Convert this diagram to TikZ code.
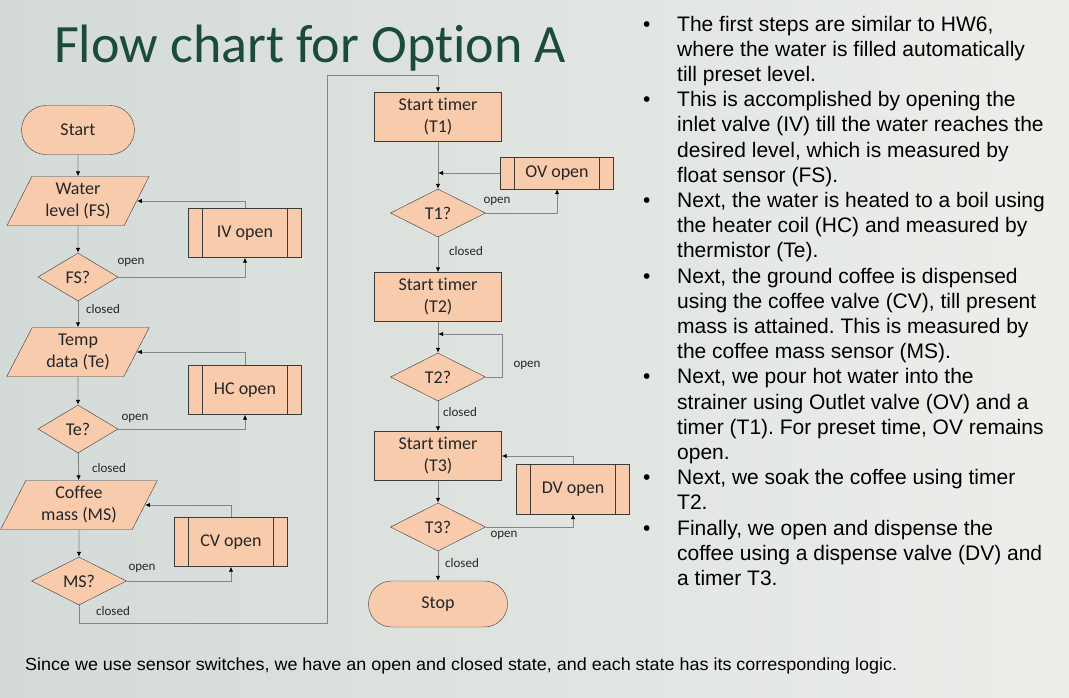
\documentclass[tikz,border=0pt]{standalone}
\usepackage{fontspec}
\usepackage{graphicx}
\usetikzlibrary{arrows.meta,positioning,shapes.geometric,shapes.misc,calc}
\newfontfamily\calibri{Carlito}[Ligatures=NoCommon]
\newfontfamily\arial{Liberation Sans}
\definecolor{peach}{HTML}{F8CBAD}
\definecolor{edge}{HTML}{3B3B3B}
\definecolor{wire}{HTML}{858585}
\definecolor{ink}{HTML}{262626}
\definecolor{titlegreen}{HTML}{1B4A3E}
\definecolor{bgleft}{HTML}{D3DAD7}
\definecolor{bgright}{HTML}{ECEEEA}
\newcommand{\bul}[1]{\hangindent=34pt\hangafter=1\noindent\makebox[34pt][l]{\textbullet}#1\par}
\frenchspacing

\begin{document}
\begin{tikzpicture}[x=1pt,y=-1pt,
  box/.style={draw=edge,fill=peach,text=ink,font=\calibri\fontsize{18}{22}\selectfont,
              align=center,inner sep=0pt},
  term/.style={box,rounded rectangle,minimum width=113pt,minimum height=49pt},
  io/.style={box,trapezium,trapezium left angle=64,trapezium right angle=116,
             trapezium stretches=true,minimum width=143pt,minimum height=49pt},
  proc/.style={box,rectangle,minimum width=127pt,minimum height=49pt},
  decide/.style={box,diamond,minimum width=95pt,minimum height=48pt},
  subproc/.style={box,rectangle,minimum width=113pt,minimum height=49pt,
    path picture={\draw[edge]
      ([xshift=14pt]path picture bounding box.north west) -- ([xshift=14pt]path picture bounding box.south west)
      ([xshift=-14pt]path picture bounding box.north east) -- ([xshift=-14pt]path picture bounding box.south east);}},
  flow/.style={draw=wire,line width=0.9pt,-{Latex[length=5pt,width=4.5pt,color=black]}},
  lbl/.style={font=\calibri\fontsize{13}{15}\selectfont,text=ink,inner sep=0pt}]

  \useasboundingbox (0,0) rectangle (1069,697);
  \shade[left color=bgleft,right color=bgright] (0,0) rectangle (1069,697);

  % title
  \node[anchor=base west,inner sep=0pt,text=titlegreen,font=\calibri\fontsize{54}{63}\selectfont]
    (title) at (54,62) {Flow chart for Option A};

  % left column
  \node[term] (start) at (78,130) {Start};
  \node[io] (wl) at (78,201) {Water\\level (FS)};
  \node[decide,minimum width=80pt] (fsq) at (78,277) {FS?};
  \node[subproc] (iv) at (245,233) {IV open};
  \node[io] (te) at (78,352) {Temp\\data (Te)};
  \node[decide,minimum width=80pt] (teq) at (78,429) {Te?};
  \node[subproc] (hc) at (245,390) {HC open};
  \node[io,minimum width=157pt] (ms) at (79,505) {Coffee\\mass (MS)};
  \node[decide] (msq) at (79,581) {MS?};
  \node[subproc] (cv) at (231,542) {CV open};

  % middle column
  \node[proc] (st1) at (438,117) {Start timer\\(T1)};
  \node[subproc,minimum height=32pt] (ov) at (557,173) {OV open};
  \node[decide] (t1q) at (438,213) {T1?};
  \node[proc] (st2) at (438,297) {Start timer\\(T2)};
  \node[decide] (t2q) at (438,377) {T2?};
  \node[proc] (st3) at (438,456) {Start timer\\(T3)};
  \node[subproc,minimum height=50pt] (dv) at (573,489) {DV open};
  \node[decide] (t3q) at (438,527) {T3?};
  \node[term,minimum width=139pt,minimum height=46pt] (stop) at (438,604) {Stop};

  \coordinate (low) at (327,623);
  \coordinate (high) at (327,75);
  \coordinate (t2back) at (438,334);

  % connectors
  \draw[flow] (start) -- (wl);
  \draw[flow] (wl) -- (fsq);
  \draw[flow] (fsq.east) -| (iv.south);
  \draw[flow] (iv.north) |- (wl.east);
  \draw[flow] (fsq) -- (te);
  \draw[flow] (te) -- (teq);
  \draw[flow] (teq.east) -| (hc.south);
  \draw[flow] (hc.north) |- (te.east);
  \draw[flow] (teq) -- (ms);
  \draw[flow] (ms) -- (msq);
  \draw[flow] (msq.east) -| (cv.south);
  \draw[flow] (cv.north) |- (ms.east);
  \draw[flow] (msq.south) |- (low) -- (high) -| (st1.north);
  \draw[flow] (st1) -- (t1q);
  \draw[flow] (ov.west) -- (ov.west -| st1.south);
  \draw[flow] (t1q.east) -| (ov.south);
  \draw[flow] (t1q) -- (st2);
  \draw[flow] (st2) -- (t2q);
  \draw[flow] (t2q.east) -- ++(17,0) |- (t2back);
  \draw[flow] (t2q) -- (st3);
  \draw[flow] (st3) -- (t3q);
  \draw[flow] (t3q.east) -| (dv.south);
  \draw[flow] (dv.north) |- (st3.east);
  \draw[flow] (t3q) -- (stop);

  % branch labels
  \node[lbl] (fsopen) at (131,262) {open};
  \node[lbl] (fsclosed) at (103,309) {closed};
  \node[lbl] (teopen) at (135,418) {open};
  \node[lbl] (teclosed) at (109,468) {closed};
  \node[lbl] (msopen) at (142,568) {open};
  \node[lbl] (msclosed) at (113,611) {closed};
  \node[lbl] (t1open) at (497,201) {open};
  \node[lbl] (t1closed) at (466,251) {closed};
  \node[lbl] (t2open) at (527,365) {open};
  \node[lbl] (t2closed) at (460,412) {closed};
  \node[lbl] (t3open) at (504,535) {open};
  \node[lbl] (t3closed) at (462,563) {closed};

  % notes
  \node[anchor=base west,inner sep=0pt,text=black] (notes) at (643,31) {\parbox[t]{426pt}{%
    \arial\fontsize{21}{25.2}\selectfont\raggedright
    \bul{The first steps are similar to HW6,\newline where the water is filled automatically\newline till preset level.}
    \bul{This is accomplished by opening the\newline inlet valve (IV) till the water reaches the\newline desired level, which is measured by\newline float sensor (FS).}
    \bul{Next, the water is heated to a boil using\newline the heater coil (HC) and measured by\newline thermistor (Te).}
    \bul{Next, the ground coffee is dispensed\newline using the coffee valve (CV), till present\newline mass is attained. This is measured by\newline the coffee mass sensor (MS).}
    \bul{Next, we pour hot water into the\newline strainer using Outlet valve (OV) and a\newline timer (T1). For preset time, OV remains\newline open.}
    \bul{Next, we soak the coffee using timer\newline T2.}
    \bul{Finally, we open and dispense the\newline coffee using a dispense valve (DV) and\newline a timer T3.}}};
  \node[anchor=base west,inner sep=0pt,text=black] (summary) at (25,670)
    {\resizebox{872pt}{\height}{\arial\fontsize{17.5}{20}\selectfont Since we use sensor switches, we have an open and closed state, and each state has its corresponding logic.}};
\end{tikzpicture}
\end{document}
